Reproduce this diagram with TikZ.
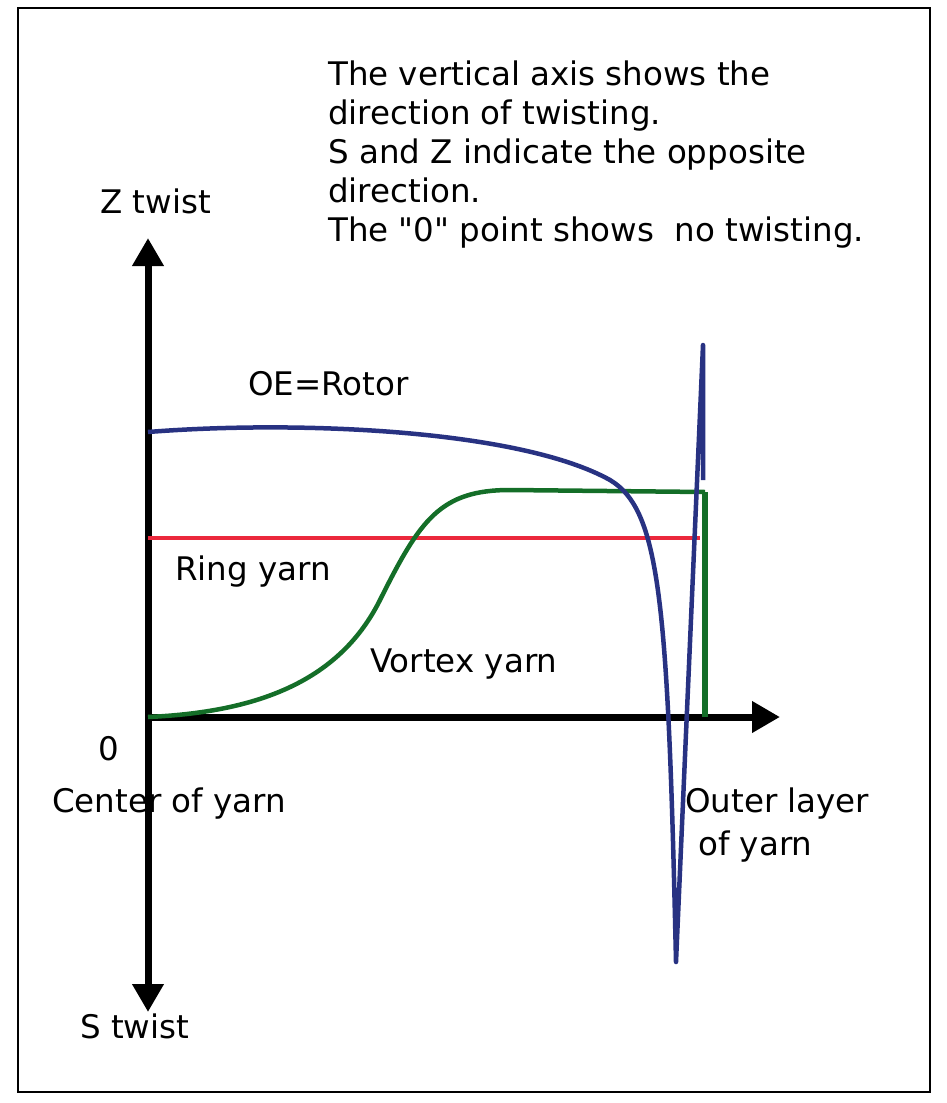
\documentclass[tikz,border=0pt]{standalone}
\usepackage{fontspec}
\setmainfont{DejaVu Sans}[Ligatures=TeXOff]
\usetikzlibrary{arrows.meta}
\definecolor{oeblue}{RGB}{40,50,130}
\definecolor{vgreen}{RGB}{20,110,40}
\definecolor{rred}{RGB}{235,40,60}
\begin{document}
\begin{tikzpicture}[x=1pt,y=-1pt,
  lab/.style={anchor=base west,inner sep=0pt,font=\fontsize{32.5}{39}\selectfont},
  ax/.style={line width=7pt,-{Triangle[length=28pt,width=30pt]}}]
\useasboundingbox (0,0) rectangle (947,1103);
\draw[line width=1.2pt] (18,8) rectangle (930,1092);
\coordinate (O) at (148,717);
\coordinate (top) at (148,238);
\coordinate (bot) at (148,1012);
\coordinate (right) at (780,717);
\draw[ax] (O) -- (top);
\draw[ax] (O) -- (bot);
\draw[ax] (O) -- (right);
% ring
\coordinate (r1) at (148,538);
\coordinate (r2) at (700,538);
\draw[rred,line width=4pt] (r1) -- (r2);
% vortex
\draw[vgreen,line width=4.5pt] (O) .. controls (260,712) and (340,680) .. (380,600)
  .. controls (420,520) and (440,490) .. (510,490) -- (705,492);
\draw[vgreen,line width=6pt] (705,492) -- (705,717);
% OE rotor
\draw[oeblue,line width=4.5pt,line join=round] (148,432) .. controls (300,420) and (520,430) .. (610,480)
  .. controls (660,510) and (668,600) .. (676,962) -- (703,345) -- (703,480);
\node[lab] (t1) at (328,85) {The vertical axis shows the};
\node[lab] (t2) at (328,124) {direction of twisting.};
\node[lab] (t3) at (328,163) {S and Z indicate the opposite};
\node[lab] (t4) at (328,202) {direction.};
\node[lab] (t5) at (328,241) {The "0" point shows\ \ no twisting.};
\node[lab] (zt) at (100,213) {Z twist};
\node[lab] (oe) at (248,395) {OE=Rotor};
\node[lab] (ry) at (175,580) {Ring yarn};
\node[lab] (vy) at (370,672) {Vortex yarn};
\node[lab] (zero) at (98,760) {0};
\node[lab] (cy) at (52,812) {Center of yarn};
\node[lab] (ol) at (685,812) {Outer layer};
\node[lab] (oy) at (698,855) {of yarn};
\node[lab] (st) at (80,1038) {S twist};
\end{tikzpicture}
\end{document}
